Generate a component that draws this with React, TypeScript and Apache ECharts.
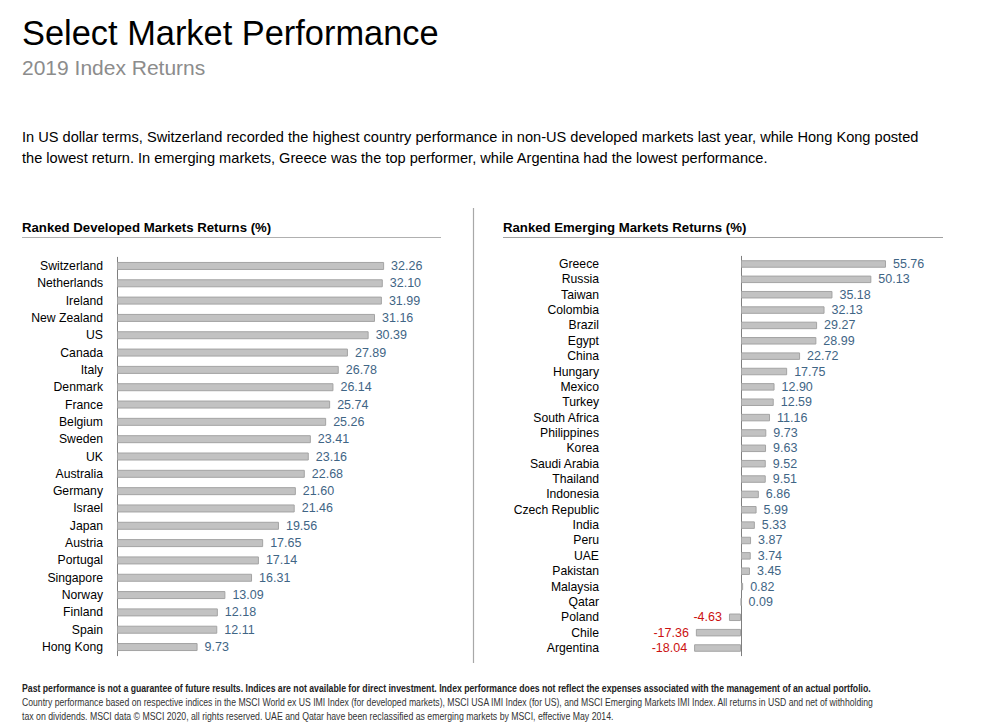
import React, { useEffect, useRef } from "react";
import * as echarts from "echarts";

const devCategories = ["Switzerland","Netherlands","Ireland","New Zealand","US","Canada","Italy","Denmark","France","Belgium","Sweden","UK","Australia","Germany","Israel","Japan","Austria","Portugal","Singapore","Norway","Finland","Spain","Hong Kong"];
const devValues = [32.26,32.10,31.99,31.16,30.39,27.89,26.78,26.14,25.74,25.26,23.41,23.16,22.68,21.60,21.46,19.56,17.65,17.14,16.31,13.09,12.18,12.11,9.73];

const emCategories = ["Greece","Russia","Taiwan","Colombia","Brazil","Egypt","China","Hungary","Mexico","Turkey","South Africa","Philippines","Korea","Saudi Arabia","Thailand","Indonesia","Czech Republic","India","Peru","UAE","Pakistan","Malaysia","Qatar","Poland","Chile","Argentina"];
const emValues = [55.76,50.13,35.18,32.13,29.27,28.99,22.72,17.75,12.90,12.59,11.16,9.73,9.63,9.52,9.51,6.86,5.99,5.33,3.87,3.74,3.45,0.82,0.09,-4.63,-17.36,-18.04];

const FONT = "'Liberation Sans', Arial, sans-serif";
const POS = "#3f6585";
const NEG = "#cc1111";

function barData(values: number[]) {
  return values.map((v) => ({
    value: v,
    label: {
      show: true,
      position: v < 0 ? "left" : "right",
      distance: 7,
      color: v < 0 ? NEG : POS,
      fontSize: 12.5,
      fontFamily: FONT,
      formatter: (p: any) => Number(p.value).toFixed(2),
    },
  }));
}

export default function App() {
  const ref = useRef<HTMLDivElement>(null);
  useEffect(() => {
    if (!ref.current) return;
    const chart = echarts.init(ref.current, null, { renderer: "svg" });
    const txt = (x: number, y: number, text: string, style: any, extra: any = {}) => ({
      type: "text",
      x,
      y,
      ...extra,
      style: { text, fontFamily: FONT, verticalAlign: "middle", ...style },
    });
    chart.setOption({
      animation: false,
      textStyle: { fontFamily: FONT },
      grid: [
        { left: 117, top: 257.3, width: 40 * 8.28, height: 398.4, containLabel: false },
        { left: 741 - 50 * 2.6, top: 256.3, width: 122 * 2.6, height: 399.4, containLabel: false },
      ],
      xAxis: [
        { gridIndex: 0, type: "value", min: 0, max: 40, show: false, splitLine: { show: false } },
        { gridIndex: 1, type: "value", min: -50, max: 72, show: false, splitLine: { show: false } },
      ],
      yAxis: [
        {
          gridIndex: 0,
          type: "category",
          data: devCategories,
          inverse: true,
          axisLine: { show: true, lineStyle: { color: "#7f7f7f", width: 1 } },
          axisTick: { show: false },
          axisLabel: { interval: 0, margin: 14, color: "#000", fontSize: 12.2, fontFamily: FONT },
        },
        {
          gridIndex: 1,
          type: "category",
          data: emCategories,
          inverse: true,
          axisLine: { show: true, onZero: true, lineStyle: { color: "#7f7f7f", width: 1 } },
          axisTick: { show: false },
          axisLabel: { interval: 0, margin: 12, color: "#000", fontSize: 12.2, fontFamily: FONT },
        },
      ],
      series: [
        {
          type: "bar",
          xAxisIndex: 0,
          yAxisIndex: 0,
          data: barData(devValues),
          barWidth: 8,
          itemStyle: { color: "#c2c2c2", borderColor: "#a4a4a4", borderWidth: 1 },
        },
        {
          type: "bar",
          xAxisIndex: 1,
          yAxisIndex: 1,
          data: barData(emValues),
          barWidth: 7.5,
          itemStyle: { color: "#c2c2c2", borderColor: "#a4a4a4", borderWidth: 1 },
        },
      ],
      graphic: [
        txt(22, 33, "Select Market Performance", { fontSize: 34.4, fill: "#000" }),
        txt(22, 67, "2019 Index Returns", { fontSize: 21, fill: "#8c8c8c" }),
        txt(22, 137, "In US dollar terms, Switzerland recorded the highest country performance in non-US developed markets last year, while Hong Kong posted", { fontSize: 14.6, fill: "#000" }),
        txt(22, 158, "the lowest return. In emerging markets, Greece was the top performer, while Argentina had the lowest performance.", { fontSize: 14.6, fill: "#000" }),
        txt(22, 227, "Ranked Developed Markets Returns (%)", { fontSize: 13.2, fontWeight: "bold", fill: "#000" }),
        txt(503, 227, "Ranked Emerging Markets Returns (%)", { fontSize: 13.2, fontWeight: "bold", fill: "#000" }),
        { type: "line", shape: { x1: 22, y1: 237.5, x2: 441, y2: 237.5 }, style: { stroke: "#b0b0b0", lineWidth: 1 } },
        { type: "line", shape: { x1: 503, y1: 237.5, x2: 943, y2: 237.5 }, style: { stroke: "#a0a0a0", lineWidth: 1 } },
        { type: "line", shape: { x1: 473.5, y1: 208, x2: 473.5, y2: 663 }, style: { stroke: "#a8a8a8", lineWidth: 1.2 } },
        txt(22, 689, "Past performance is not a guarantee of future results. Indices are not available for direct investment. Index performance does not reflect the expenses associated with the management of an actual portfolio.", { fontSize: 10, fontWeight: "bold", fill: "#222" }, { scaleX: 0.87 }),
        txt(22, 703, "Country performance based on respective indices in the MSCI World ex US IMI Index (for developed markets), MSCI USA IMI Index (for US), and MSCI Emerging Markets IMI Index. All returns in USD and net of withholding", { fontSize: 10, fill: "#333" }, { scaleX: 0.866 }),
        txt(22, 716, "tax on dividends. MSCI data © MSCI 2020, all rights reserved. UAE and Qatar have been reclassified as emerging markets by MSCI, effective May 2014.", { fontSize: 10, fill: "#333" }, { scaleX: 0.875 }),
      ],
    });
    return () => chart.dispose();
  }, []);
  return (
    <div
      ref={ref}
      style={{ position: "fixed", left: 0, top: 0, width: 1000, height: 728, background: "#fff" }}
    />
  );
}
